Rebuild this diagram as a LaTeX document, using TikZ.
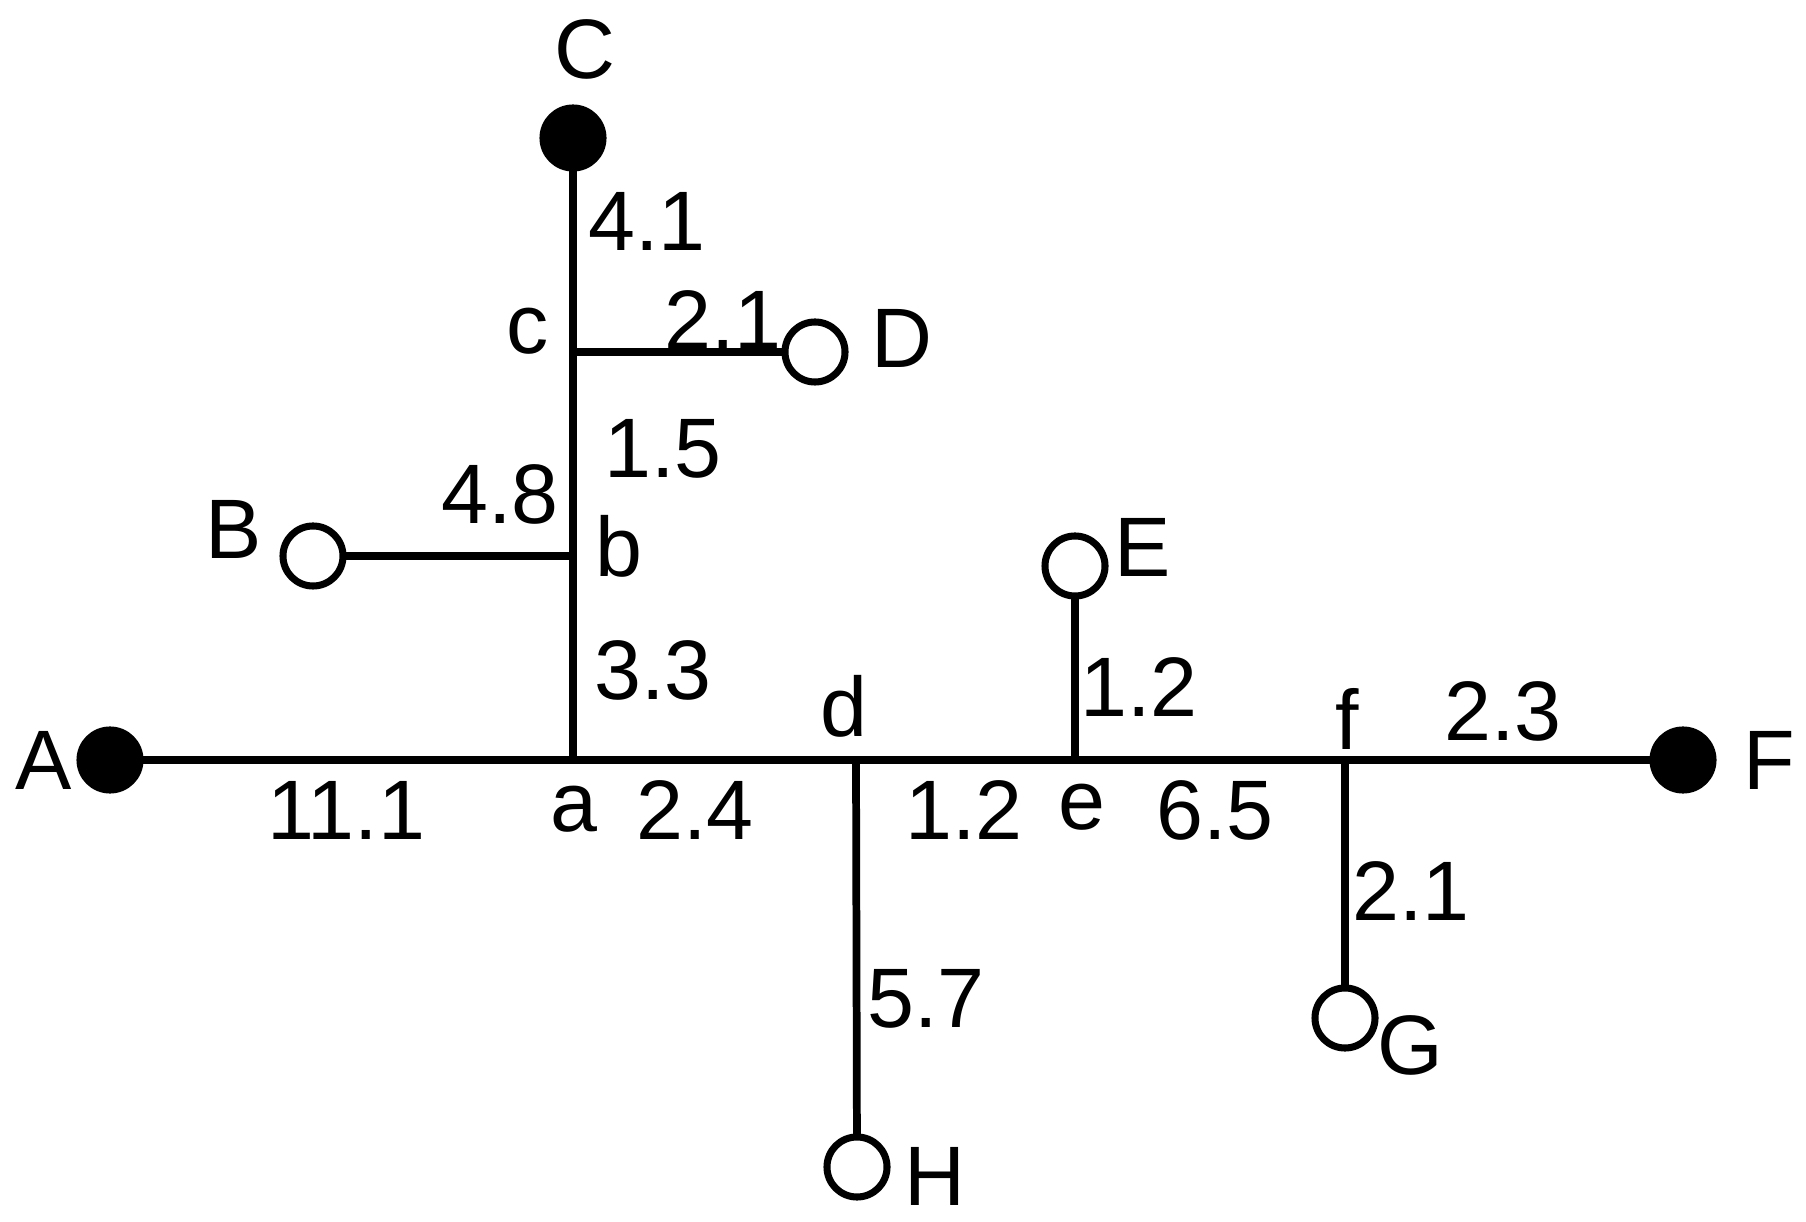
\documentclass[tikz,border=0pt]{standalone}
\usepackage{fontspec}
\setmainfont{Liberation Sans}
\usepackage{tikz}

\tikzset{
  leaf/.style = {circle, draw, line width = 2pt, fill = white, minimum size = 0.6cm, inner sep = 0pt},
  root/.style = {leaf, fill = black},
  lbl/.style = {anchor = base, inner sep = 0pt, font = \fontsize{24}{28}\selectfont},
  branch/.style = {line width = 2.2pt}
}

\begin{document}
\begin{tikzpicture}[x = 0.01cm, y = -0.01cm]
  \useasboundingbox (0, 0) rectangle (1806, 1222);
  % inner vertices
  \coordinate (a) at (573, 760);
  \coordinate (b) at (573, 556);
  \coordinate (c) at (573, 352);
  \coordinate (d) at (856, 760);
  \coordinate (e) at (1075, 760);
  \coordinate (f) at (1345, 760);
  % edges
  \draw[branch] (110, 760) coordinate (Ac) -- (a) -- (d) -- (e) -- (f) -- (1683, 760) coordinate (Fc);
  \draw[branch] (a) -- (b) -- (c) -- (573, 138) coordinate (Cc);
  \draw[branch] (b) -- (313, 556) coordinate (Bc);
  \draw[branch] (c) -- (815, 352) coordinate (Dc);
  \draw[branch] (e) -- (1075, 566) coordinate (Ec);
  \draw[branch] (d) -- (857, 1167) coordinate (Hc);
  \draw[branch] (f) -- (1345, 1018) coordinate (Gc);
  % leaves
  \node[root] at (Ac) (A) {};
  \node[root] at (Cc) (C) {};
  \node[root] at (Fc) (F) {};
  \node[leaf] at (Bc) (B) {};
  \node[leaf] at (Dc) (D) {};
  \node[leaf] at (Ec) (E) {};
  \node[leaf] at (Gc) (G) {};
  \node[leaf] at (Hc) (H) {};
  % vertex names
  \node[lbl] at (44, 790) (lA) {A};
  \node[lbl] at (234, 559) (lB) {B};
  \node[lbl] at (585, 79) (lC) {C};
  \node[lbl] at (902, 368) (lD) {D};
  \node[lbl] at (1143, 577) (lE) {E};
  \node[lbl] at (1769, 790) (lF) {F};
  \node[lbl] at (1410, 1074) (lG) {G};
  \node[lbl] at (935, 1205) (lH) {H};
  \node[lbl] at (574, 831) (la) {a};
  \node[lbl] at (619, 577) (lb) {b};
  \node[lbl] at (528, 354) (lc) {c};
  \node[lbl] at (844, 736) (ld) {d};
  \node[lbl] at (1082, 830) (le) {e};
  \node[lbl] at (1347, 749) (lf) {f};
  % edge lengths
  \node[lbl] at (346, 839) (wAa) {11.1};
  \node[lbl] at (695, 839) (wad) {2.4};
  \node[lbl] at (964, 839) (wde) {1.2};
  \node[lbl] at (1215, 839) (wef) {6.5};
  \node[lbl] at (1503, 741) (wfF) {2.3};
  \node[lbl] at (653, 700) (wab) {3.3};
  \node[lbl] at (500, 524) (wbB) {4.8};
  \node[lbl] at (663, 478) (wbc) {1.5};
  \node[lbl] at (723, 350) (wcD) {2.1};
  \node[lbl] at (647, 251) (wcC) {4.1};
  \node[lbl] at (1139, 716) (weE) {1.2};
  \node[lbl] at (1411, 920) (wfG) {2.1};
  \node[lbl] at (926, 1027) (wdH) {5.7};
\end{tikzpicture}
\end{document}
